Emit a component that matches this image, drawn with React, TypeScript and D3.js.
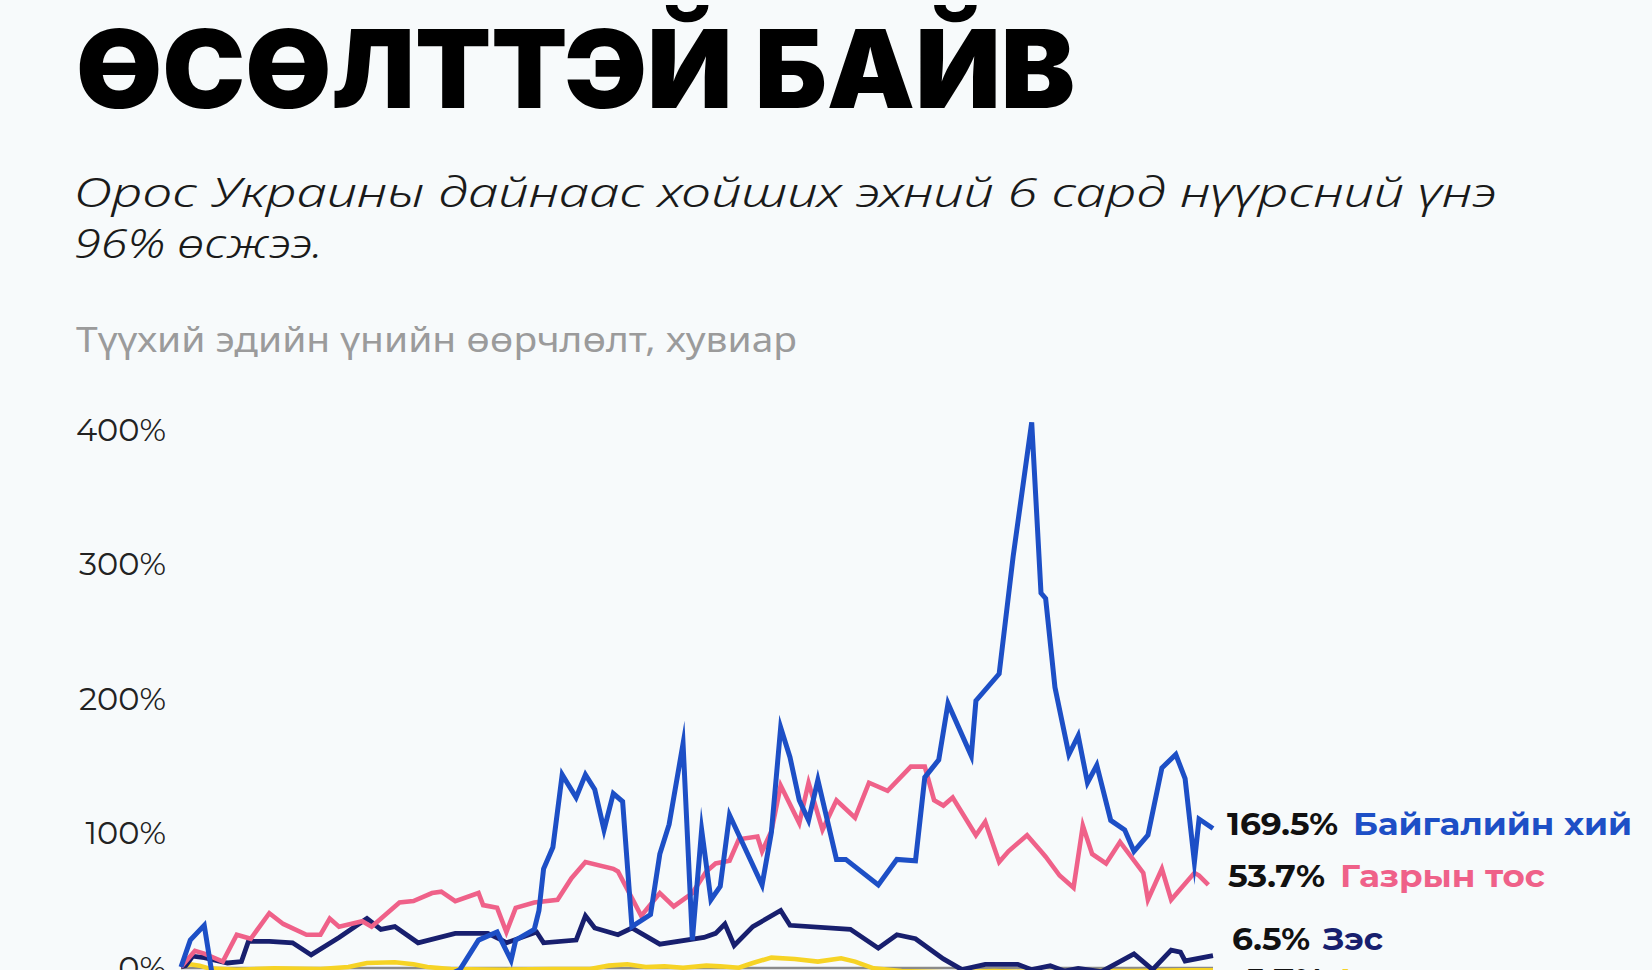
import React from "react";
import * as d3 from "d3";

// ---- Data (day offset from start, % change) ----
const gasDays = [0, 2, 5, 7, 15, 25, 35, 45, 55, 60, 64, 68, 71, 72, 76, 77, 78, 80, 82, 85, 87, 89, 91, 93, 95, 97, 101, 103, 105, 108, 110, 112, 114, 116, 118, 125, 127, 129, 131, 133, 135, 137, 141, 143, 150, 154, 158, 160, 163, 165, 170, 171, 176, 179, 183, 185, 186, 188, 191, 193, 195, 197, 200, 203, 205, 208, 211, 214, 216, 218, 219, 222];
const gasValues = [0, 20, 31, -12, -18, -14, -20, -15, -10, -2, 20, 26, 5, 20, 28, 42, 73, 89, 143, 126, 143, 132, 102, 129, 123, 30, 39, 84, 106, 166, 20, 102, 50, 60, 113, 61, 100, 178, 156, 124, 109, 139, 80, 80, 61, 80, 79, 141, 154, 196, 157, 198, 218, 305, 405, 278, 274, 208, 158, 172, 137, 150, 109, 102, 86, 98, 148, 158, 140, 78, 110, 103];

const oilDays = [0, 3, 5, 9, 12, 15, 19, 22, 27, 30, 32, 34, 39, 41, 47, 50, 54, 56, 59, 64, 65, 68, 70, 72, 76, 81, 84, 87, 93, 94, 99, 103, 106, 110, 113, 115, 118, 120, 124, 125, 127, 129, 133, 135, 138, 141, 145, 148, 152, 157, 160, 162, 164, 166, 171, 173, 176, 178, 182, 185, 186, 189, 192, 194, 196, 199, 202, 207, 208, 211, 213, 218, 219, 221];
const oilValues = [0, 12, 10, 4, 24, 21, 40, 32, 24, 24, 36, 30, 34, 30, 48, 49, 55, 56, 49, 55, 46, 44, 26, 44, 48, 50, 66, 78, 73, 71, 38, 55, 45, 55, 71, 77, 79, 95, 97, 86, 101, 135, 107, 137, 102, 124, 111, 137, 131, 149, 149, 124, 120, 126, 98, 108, 78, 86, 98, 86, 82, 68, 59, 105, 84, 77, 93, 70, 50, 73, 50, 70, 68, 61];

const copperDays = [0, 1, 2.5, 5, 10, 13, 14.5, 19, 24, 28, 34, 40, 43, 46, 51, 59, 66, 69, 70, 76.5, 78, 85, 87, 89, 94, 97, 103, 112.5, 115, 117, 119, 123, 129, 131, 144, 150, 154, 158, 164, 168, 173, 180, 183, 187, 190, 193, 198, 205, 209, 213, 215, 216, 222];
const copperValues = [0, 1, 8, 7, 3, 4, 19, 19, 18, 9, 22, 36, 28, 30, 18, 25, 25, 20, 18, 26, 18, 20, 38, 29, 24, 29, 17, 22, 25, 32, 16, 30, 42, 31, 28, 14, 24, 21, 6, -2, 2, 2, -2, 1, -3, -1, -3.5, 9.7, -2, 12.6, 11, 4.5, 8.4];

const goldDays = [0, 2, 4, 6, 12, 20, 30, 36, 40, 46, 50, 53, 58, 70, 80, 88, 92, 96, 100, 104, 108, 113, 116, 120, 123, 127, 132, 137, 142, 145, 149, 155, 165, 175, 185, 195, 205, 215, 222];
const goldValues = [0, 2, 1, -1, -2, -1, -1.5, 0, 3, 3.5, 2, 0, -1.5, -2, -1.5, -1.5, 1, 2, 0, 0.5, -0.5, 1, 0.5, -0.5, 3, 7, 6, 4, 6.5, 4, -1, -3, -4, -3, -4, -3, -3, -2.5, -2.5];

const yTicks = [0, 100, 200, 300, 400];
const tickLabels = ["0%", "100%", "200%", "300%", "400%"];

const seriesNames = ["Алт", "Зэс", "Газрын тос", "Байгалийн хий"];
const seriesLastLabels = ["-5.7%", "6.5%", "53.7%", "169.5%"];

const titleText = "ӨСӨЛТТЭЙ БАЙВ";
const subtitleLines = ["Орос Украины дайнаас хойших эхний 6 сард нүүрсний үнэ", "96% өсжээ."];
const axisTitle = "Түүхий эдийн үнийн өөрчлөлт, хувиар";

const COLORS = {
  gas: "#1d4fc6",
  oil: "#ef6189",
  copper: "#181f6e",
  gold: "#f6d325",
};

export default function App() {
  const W = 1652;
  const H = 970;
  const x = d3.scaleLinear().domain([0, 222]).range([181, 1213]);
  const y = d3.scaleLinear().domain([0, 400]).range([967, 429]);
  const line = d3
    .line<[number, number]>()
    .x((d) => x(d[0]))
    .y((d) => y(d[1]));
  const pts = (days: number[], vals: number[]) => days.map((d, i) => [d, vals[i]] as [number, number]);

  const series = [
    { key: "gold", color: COLORS.gold, data: pts(goldDays, goldValues), w: 4.6 },
    { key: "copper", color: COLORS.copper, data: pts(copperDays, copperValues), w: 4.8 },
    { key: "oil", color: COLORS.oil, data: pts(oilDays, oilValues), w: 4.6 },
    { key: "gas", color: COLORS.gas, data: pts(gasDays, gasValues), w: 5 },
  ];

  const labelFont = "'Montserrat', Inter, 'Noto Sans', sans-serif";
  const endX = x(222);
  const labels = [
    { num: seriesLastLabels[3], name: seriesNames[3], color: COLORS.gas, y: 835, dx: 14, numW: 111, nameX: 1353, nameW: 279 },
    { num: seriesLastLabels[2], name: seriesNames[2], color: COLORS.oil, y: 887, dx: 15, numW: 97, nameX: 1340, nameW: 205 },
    { num: seriesLastLabels[1], name: seriesNames[1], color: COLORS.copper, y: 950, dx: 19, numW: 78, nameX: 1323, nameW: 60 },
    { num: seriesLastLabels[0], name: seriesNames[0], color: COLORS.gold, y: 991, dx: 19, numW: 92, nameX: 1333, nameW: 62 },
  ];

  return (
    <svg
      width={W}
      height={H}
      style={{ position: "fixed", left: 0, top: 0, background: "#f7fafb", display: "block" }}
    >
      <rect x={0} y={0} width={W} height={H} fill="#f7fafb" />
      <text
        x={76}
        y={108}
        fontFamily="Inter, 'Noto Sans', 'DejaVu Sans', sans-serif"
        fontWeight={900}
        fontSize={108}
        fill="#000"
        textLength={999}
        lengthAdjust="spacingAndGlyphs"
      >
        {titleText}
      </text>
      <text
        x={74}
        y={207}
        fontFamily="'Noto Sans', 'Open Sans', sans-serif"
        fontStyle="italic"
        fontWeight={300}
        fontSize={40}
        fill="#1a1a1a"
        textLength={1423}
        lengthAdjust="spacingAndGlyphs"
      >
        {subtitleLines[0]}
      </text>
      <text
        x={74}
        y={258}
        fontFamily="'Noto Sans', 'Open Sans', sans-serif"
        fontStyle="italic"
        fontWeight={300}
        fontSize={40}
        fill="#1a1a1a"
        textLength={249}
        lengthAdjust="spacingAndGlyphs"
      >
        {subtitleLines[1]}
      </text>
      <text
        x={76}
        y={352}
        fontFamily="'Noto Sans', 'Open Sans', sans-serif"
        fontWeight={400}
        fontSize={35}
        fill="#9b9b9b"
        textLength={721}
        lengthAdjust="spacingAndGlyphs"
      >
        {axisTitle}
      </text>

      {yTicks.map((t, i) => (
        <text
          key={t}
          x={166}
          y={y(t)}
          dy="0.36em"
          textAnchor="end"
          fontFamily={labelFont}
          fontWeight={400}
          fontSize={32}
          fill="#222"
        >
          {tickLabels[i]}
        </text>
      ))}

      <line x1={x(0)} x2={x(222)} y1={y(0) + 1} y2={y(0) + 1} stroke="#8a8a8a" strokeWidth={2.5} />

      {series.map((s) => (
        <path
          key={s.key}
          d={line(s.data) || ""}
          fill="none"
          stroke={s.color}
          strokeWidth={s.w}
          strokeLinejoin="miter"
          strokeMiterlimit={10}
        />
      ))}

      {labels.map((l) => (
        <g key={l.name}>
          <text
            x={endX + l.dx}
            y={l.y}
            fontFamily={labelFont}
            fontWeight={700}
            fontSize={31}
            fill="#111"
            textLength={l.numW}
            lengthAdjust="spacingAndGlyphs"
          >
            {l.num}
          </text>
          <text
            x={l.nameX}
            y={l.y}
            fontFamily={labelFont}
            fontWeight={700}
            fontSize={31}
            fill={l.color}
            textLength={l.nameW}
            lengthAdjust="spacingAndGlyphs"
          >
            {l.name}
          </text>
        </g>
      ))}
    </svg>
  );
}
